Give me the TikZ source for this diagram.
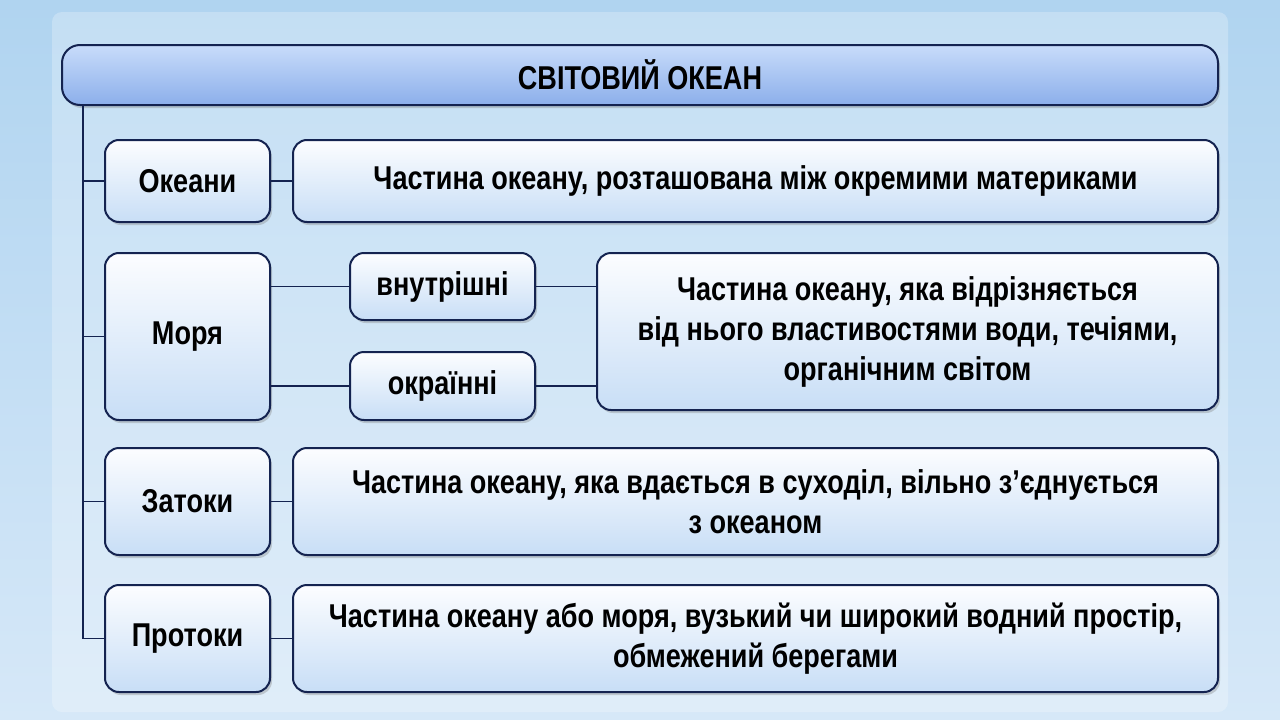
\documentclass[tikz,border=0pt]{standalone}
\usepackage{fontspec}
\setmainfont{Liberation Sans}[FakeStretch=0.82]
\usetikzlibrary{shadows}
\definecolor{bgA}{RGB}{176,212,240}
\definecolor{bgB}{RGB}{214,232,248}
\definecolor{edge}{RGB}{20,35,80}
\definecolor{boxtop}{RGB}{252,253,255}
\definecolor{boxbot}{RGB}{200,222,246}
\definecolor{titletop}{RGB}{200,220,250}
\definecolor{titlebot}{RGB}{140,175,235}
\tikzset{
 box/.style={draw=edge,line width=2pt,rounded corners=14pt,top color=boxtop,bottom color=boxbot,
   drop shadow={shadow xshift=2pt,shadow yshift=-3pt,opacity=0.35},align=center,
   font=\bfseries\fontsize{33}{40}\selectfont,text=black},
 link/.style={draw=edge,line width=1.5pt}
}
\begin{document}
\begin{tikzpicture}[x=1pt,y=-1pt]
\useasboundingbox (0,0) rectangle (1280,720);
\shade[top color=bgA,bottom color=bgB] (0,0) rectangle (1280,720);
\fill[white,opacity=0.25,rounded corners=10pt] (52,12) rectangle (1228,712);
% title
\node[box,top color=titletop,bottom color=titlebot,rounded corners=18pt,minimum width=1156pt,minimum height=60pt] (t) at (640,75) {СВІТОВИЙ ОКЕАН};
% left
\node[box,minimum width=165pt,minimum height=82pt] (o) at (187.5,181) {Океани};
\node[box,minimum width=165pt,minimum height=167pt] (m) at (187.5,336.5) {Моря};
\node[box,minimum width=165pt,minimum height=107pt] (z) at (187.5,501.5) {Затоки};
\node[box,minimum width=165pt,minimum height=107pt] (p) at (187.5,638.5) {Протоки};
% right
\node[box,minimum width=925pt,minimum height=82pt] (od) at (755.5,181) {Частина океану, розташована між окремими материками};
\node[box,minimum width=185pt,minimum height=67pt] (v) at (442.5,286.5) {внутрішні};
\node[box,minimum width=185pt,minimum height=68pt] (k) at (442.5,386) {окраїнні};
\node[box,minimum width=621pt,minimum height=157pt] (md) at (907.5,331.5) {Частина океану, яка відрізняється\\від нього властивостями води, течіями,\\органічним світом};
\node[box,minimum width=925pt,minimum height=107pt] (zd) at (755.5,501.5) {Частина океану, яка вдається в суходіл, вільно з’єднується\\з океаном};
\node[box,minimum width=925pt,minimum height=107pt] (pd) at (755.5,638.5) {Частина океану або моря, вузький чи широкий водний простір,\\обмежений берегами};
% connectors
\coordinate (top) at (83,105);
\draw[link] (top) -- (83,638.5) -- (p.west);
\draw[link] (83,181) -- (o.west);
\draw[link] (83,336.5) -- (m.west);
\draw[link] (83,501.5) -- (z.west);
\draw[link] (o.east) -- (od.west);
\draw[link] (z.east) -- (zd.west);
\draw[link] (p.east) -- (pd.west);
\draw[link] (m.east |- v) -- (v.west);
\draw[link] (m.east |- k) -- (k.west);
\draw[link] (v.east) -- (md.west |- v);
\draw[link] (k.east) -- (md.west |- k);
\end{tikzpicture}
\end{document}
